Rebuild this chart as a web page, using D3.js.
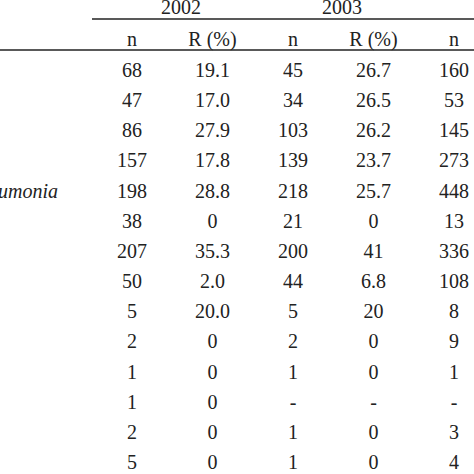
<!DOCTYPE html><html><head><meta charset="utf-8"><script src="https://cdn.jsdelivr.net/npm/d3@7"></script>
<style>body{margin:0;background:#fff}</style></head><body><svg width="474" height="474"></svg><script>
const years=["2002","2003"];
const subHeaders=["n","R (%)","n","R (%)","n"];
const rowLabels=["","","","","Klebsiella pneumonia","","","","","","","","",""];
const n2002=["68","47","86","157","198","38","207","50","5","2","1","1","2","5"];
const r2002=["19.1","17.0","27.9","17.8","28.8","0","35.3","2.0","20.0","0","0","0","0","0"];
const n2003=["45","34","103","139","218","21","200","44","5","2","1","-","1","1"];
const r2003=["26.7","26.5","26.2","23.7","25.7","0","41","6.8","20","0","0","-","0","0"];
const n2004=["160","53","145","273","448","13","336","108","8","9","1","-","3","4"];
const svg=d3.select("svg");
const font="'Times New Roman', Times, 'Liberation Serif', 'DejaVu Serif', serif";
const x=d3.scalePoint().domain(d3.range(5)).range([132,454]);
const y=d3.scaleLinear().domain([0,13]).range([70,462]);
const col="#222";
function t(xx,yy,s,anchor,italic){svg.append("text").attr("x",xx).attr("y",yy).attr("dy","0.35em").attr("text-anchor",anchor||"middle").style("font-family",font).attr("font-size",20).attr("fill",col).attr("font-style",italic?"italic":"normal").text(s);}
t(181,7,years[0]);t(342,7,years[1]);
svg.append("line").attr("x1",92).attr("x2",474).attr("y1",19).attr("y2",19).attr("stroke",col).attr("stroke-width",1.3);
subHeaders.forEach((s,i)=>t(x(i),39,s));
svg.append("line").attr("x1",0).attr("x2",474).attr("y1",50).attr("y2",50).attr("stroke",col).attr("stroke-width",1.3);
const cols=[n2002,r2002,n2003,r2003,n2004];
cols.forEach((c,i)=>c.forEach((v,j)=>t(x(i),y(j),v)));
rowLabels.forEach((l,j)=>{if(l)t(58,y(j),l,"end",true);});
</script></body></html>
